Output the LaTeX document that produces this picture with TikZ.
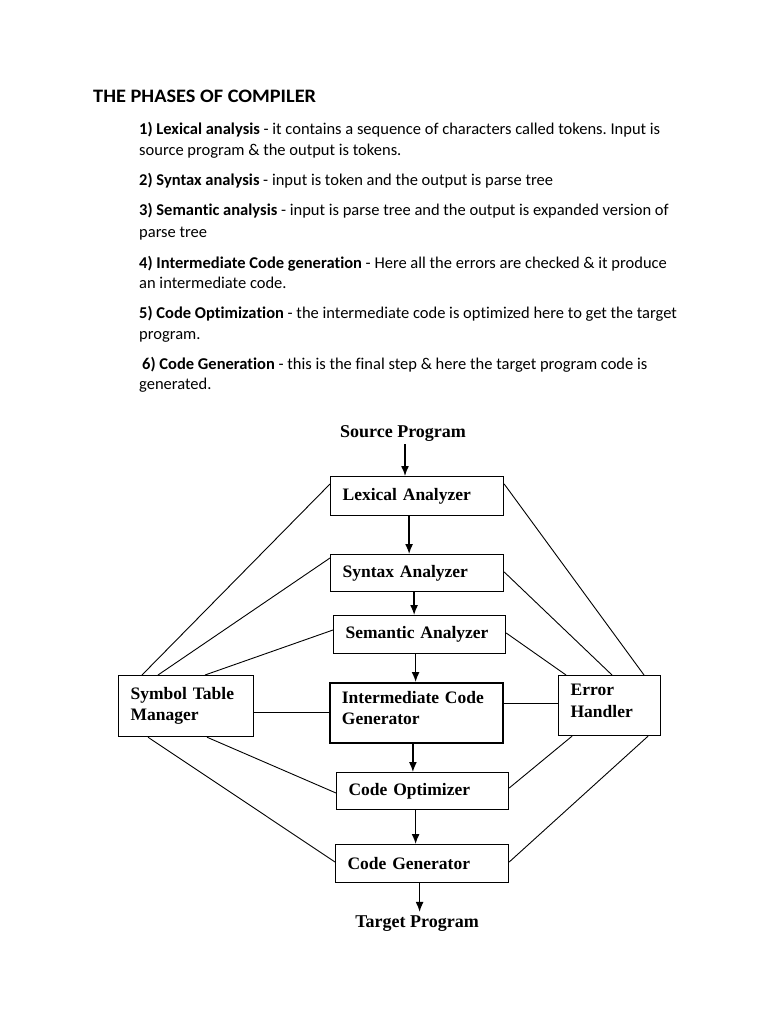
\documentclass[tikz,border=0pt]{standalone}
\usepackage{fontspec}
\setmainfont{Carlito}[Ligatures=CommonOff]
\newfontfamily\ttlfont{Carlito}[FakeStretch=1.07,Ligatures=CommonOff]
\newfontfamily\tnr{Liberation Serif}
\usetikzlibrary{arrows.meta,calc}
\frenchspacing
\tikzset{
  txt/.style={anchor=base west, inner sep=0pt, font=\fontsize{16.5}{20}\selectfont},
  ttl/.style={anchor=base west, inner sep=0pt, font=\ttlfont\fontsize{19}{22}\selectfont\bfseries},
  box/.style={draw, line width=1.2pt, anchor=north west, inner xsep=12pt, inner ysep=0pt, align=left,
     font=\tnr\bfseries\fontsize{17.5}{21.5}\selectfont},
  lbl/.style={inner sep=0pt, font=\tnr\bfseries\fontsize{18}{21}\selectfont},
  con/.style={line width=0.9pt},
  arr/.style={line width=1.4pt, -{Latex[length=10pt,width=8pt]}}
}
\newcommand{\uptext}[2]{\raisebox{#1}[\height][\depth]{\begin{tabular}{@{}l@{}}#2\end{tabular}}}
\begin{document}
\begin{tikzpicture}[x=1pt,y=-1pt]
\useasboundingbox (0,0) rectangle (768,1024);
\fill[white] (0,0) rectangle (768,1024);
% text
\node[ttl] (title) at (93,103) {THE PHASES OF COMPILER};
\node[txt] (i1a) at (139,135) {\textbf{1) Lexical analysis} - it contains a sequence of characters called tokens. Input is};
\node[txt] (i1b) at (139,156) {source program \& the output is tokens.};
\node[txt] (i2a) at (139,186) {\textbf{2) Syntax analysis} - input is token and the output is parse tree};
\node[txt] (i3a) at (139,216) {\textbf{3) Semantic analysis} - input is parse tree and the output is expanded version of};
\node[txt] (i3b) at (139,237) {parse tree};
\node[txt] (i4a) at (139,268) {\textbf{4) Intermediate Code generation} - Here all the errors are checked \& it produce};
\node[txt] (i4b) at (139,288) {an intermediate code.};
\node[txt] (i5a) at (139,318) {\textbf{5) Code Optimization} - the intermediate code is optimized here to get the target};
\node[txt] (i5b) at (139,339) {program.};
\node[txt] (i6a) at (142,369) {\textbf{6) Code Generation} - this is the final step \& here the target program code is};
\node[txt] (i6b) at (139,389) {generated.};
% diagram
\node[lbl] (src) at (403,434) {Source Program};
\node[lbl] (tgt) at (417,924) {Target Program};
\node[box, minimum width=173pt, minimum height=39pt, text width=149pt] (lex) at (330,476) {Lexical Analyzer};
\node[box, minimum width=173pt, minimum height=37pt, text width=149pt] (syn) at (330,554) {Syntax Analyzer};
\node[box, minimum width=172pt, minimum height=38pt, text width=148pt] (sem) at (333,615) {Semantic Analyzer};
\node[box, line width=1.8pt, minimum width=173pt, minimum height=60pt, text width=149pt] (icg) at (329,682) {\uptext{3pt}{Intermediate Code\\Generator}};
\node[box, minimum width=135pt, minimum height=61pt, text width=111pt] (sym) at (118,675) {Symbol Table\\Manager};
\node[box, minimum width=102pt, minimum height=60pt, text width=78pt] (err) at (558,675) {\uptext{3.5pt}{Error\\Handler}};
\node[box, minimum width=172pt, minimum height=37pt, text width=148pt] (co) at (336,772) {Code Optimizer};
\node[box, minimum width=173pt, minimum height=38pt, text width=149pt] (cg) at (335,844) {Code Generator};
% arrows
\draw[arr] ([xshift=2pt,yshift=-2pt]src.south) -- ([xshift=2pt]src.south |- lex.north);
\draw[arr] ([xshift=-8pt]lex.south) -- ([xshift=-8pt]lex.south |- syn.north);
\draw[arr] ([xshift=-3pt]syn.south) -- ([xshift=-3pt]syn.south |- sem.north);
\draw[arr] ([xshift=-4pt]sem.south) -- ([xshift=-4pt]sem.south |- icg.north);
\draw[arr] ([xshift=-3.5pt]icg.south) -- ([xshift=-3.5pt]icg.south |- co.north);
\draw[arr] ([xshift=-7pt]co.south) -- ([xshift=-7pt]co.south |- cg.north);
\draw[arr] ([xshift=-2.5pt]cg.south) -- ([xshift=-2.5pt,yshift=4pt]cg.south |- tgt.north);
% symbol table connectors
\draw[con] ([xshift=24pt]sym.north west) -- ([yshift=-8pt]lex.north west);
\draw[con] ([xshift=40pt]sym.north west) -- ([yshift=-4pt]syn.north west);
\draw[con] ([xshift=87pt]sym.north west) -- ([yshift=-15pt]sem.north west);
\draw[con] (sym.east |- icg.west) -- (icg.west);
\draw[con] ([xshift=89pt]sym.south west) -- ([yshift=-21pt]co.north west);
\draw[con] ([xshift=30pt]sym.south west) -- ([yshift=-18pt]cg.north west);
% error handler connectors
\draw[con] ([yshift=-8pt]lex.north east) -- ([xshift=86pt]err.north west);
\draw[con] ([yshift=-18pt]syn.north east) -- ([xshift=54pt]err.north west);
\draw[con] ([yshift=-18pt]sem.north east) -- ([xshift=8pt]err.north west);
\draw[con] ([yshift=-21pt]icg.north east) -- ([yshift=-28pt]err.north west);
\draw[con] ([xshift=14pt]err.south west) -- ([yshift=-16pt]co.north east);
\draw[con] ([xshift=90pt]err.south west) -- ([yshift=-18pt]cg.north east);
\end{tikzpicture}
\end{document}
